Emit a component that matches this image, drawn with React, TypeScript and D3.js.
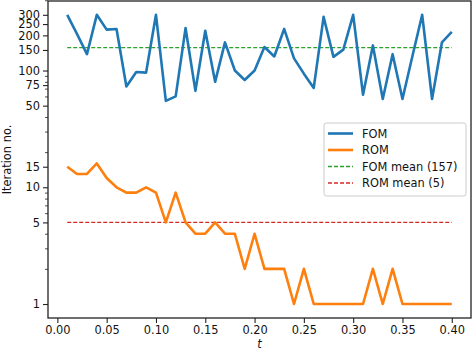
import React, { useRef, useEffect } from "react";
import * as d3 from "d3";

// time steps
const tValues = [
  0.01, 0.02, 0.03, 0.04, 0.05, 0.06, 0.07, 0.08, 0.09, 0.1,
  0.11, 0.12, 0.13, 0.14, 0.15, 0.16, 0.17, 0.18, 0.19, 0.2,
  0.21, 0.22, 0.23, 0.24, 0.25, 0.26, 0.27, 0.28, 0.29, 0.3,
  0.31, 0.32, 0.33, 0.34, 0.35, 0.36, 0.37, 0.38, 0.39, 0.4,
];

const fomIters = [
  300, 205, 138, 300, 224, 227, 73, 97, 96, 300,
  55, 60, 231, 67, 219, 80, 174, 100, 83, 100,
  159, 132, 227, 127, 94, 71, 288, 131, 151, 300,
  62, 164, 57, 138, 57, 132, 300, 57, 174, 214,
];

const romIters = [
  15, 13, 13, 16, 12, 10, 9, 9, 10, 9,
  5, 9, 5, 4, 4, 5, 4, 4, 2, 4,
  2, 2, 2, 1, 2, 1, 1, 1, 1, 1,
  1, 2, 1, 2, 1, 1, 1, 1, 1, 1,
];

const fomMean = 157;
const romMean = 5;

const xTicks = [0, 0.05, 0.1, 0.15, 0.2, 0.25, 0.3, 0.35, 0.4];
const yTicks = [1, 5, 10, 15, 50, 75, 100, 150, 200, 250, 300];
const yMinor = [2, 3, 4, 6, 7, 8, 9, 20, 30, 40, 60, 70, 80, 90, 400];

const legendItems = [
  { label: "FOM", color: "#1f77b4", dashed: false },
  { label: "ROM", color: "#ff7f0e", dashed: false },
  { label: "FOM mean (157)", color: "#2ca02c", dashed: true },
  { label: "ROM mean (5)", color: "#d62728", dashed: true },
];

const FONT = "'DejaVu Sans', sans-serif";

export default function App() {
  const svgRef = useRef<SVGSVGElement>(null);

  useEffect(() => {
    document.body.style.margin = "0";
    if (!svgRef.current) return;
    const svg = d3.select(svgRef.current);
    svg.selectAll("*").remove();

    const left = 48, right = 471, top = 1, bottom = 318;

    const x = d3.scaleLinear().domain([-0.0095, 0.4195]).range([left, right]);
    const y = d3.scaleLog().domain([0.759, 394]).range([bottom, top]);

    const g = svg.append("g");

    // mean lines
    const meanLine = (v: number, color: string) =>
      g.append("line")
        .attr("x1", x(tValues[0]))
        .attr("x2", x(tValues[tValues.length - 1]))
        .attr("y1", y(v))
        .attr("y2", y(v))
        .attr("stroke", color)
        .attr("stroke-width", 1.4)
        .attr("stroke-dasharray", "4,2");
    meanLine(fomMean, "#2ca02c");
    meanLine(romMean, "#d62728");

    const line = d3.line<number>()
      .x((_, i) => x(tValues[i]))
      .y(d => y(d));

    g.append("path")
      .datum(fomIters)
      .attr("fill", "none")
      .attr("stroke", "#1f77b4")
      .attr("stroke-width", 2.6)
      .attr("stroke-linejoin", "round")
      .attr("d", line);

    g.append("path")
      .datum(romIters)
      .attr("fill", "none")
      .attr("stroke", "#ff7f0e")
      .attr("stroke-width", 2.6)
      .attr("stroke-linejoin", "round")
      .attr("d", line);

    // frame
    g.append("rect")
      .attr("x", left)
      .attr("y", top)
      .attr("width", right - left)
      .attr("height", bottom - top)
      .attr("fill", "none")
      .attr("stroke", "#222")
      .attr("stroke-width", 1.3);

    // x axis
    const xAxis = d3.axisBottom(x)
      .tickValues(xTicks)
      .tickFormat(d => (d as number).toFixed(2))
      .tickSize(5)
      .tickPadding(3);
    const xg = g.append("g")
      .attr("transform", `translate(0,${bottom})`)
      .call(xAxis);
    xg.select(".domain").remove();
    xg.selectAll("line").attr("stroke", "#222").attr("stroke-width", 1.1);
    xg.selectAll("text")
      .style("font-family", FONT)
      .style("font-size", "11.4px")
      .attr("fill", "#111");

    // y axis
    const yAxis = d3.axisLeft(y)
      .tickValues(yTicks)
      .tickFormat(d => String(d))
      .tickSize(5)
      .tickPadding(3);
    const yg = g.append("g")
      .attr("transform", `translate(${left},0)`)
      .call(yAxis);
    yg.select(".domain").remove();
    yg.selectAll("line").attr("stroke", "#222").attr("stroke-width", 1.1);
    yg.selectAll("text")
      .style("font-family", FONT)
      .style("font-size", "11.4px")
      .attr("fill", "#111");

    const minorAxis = d3.axisLeft(y)
      .tickValues(yMinor)
      .tickFormat(() => "")
      .tickSize(3);
    const mg = g.append("g")
      .attr("transform", `translate(${left},0)`)
      .call(minorAxis);
    mg.select(".domain").remove();
    mg.selectAll("line").attr("stroke", "#222").attr("stroke-width", 0.8);

    // axis labels
    g.append("text")
      .attr("x", (left + right) / 2)
      .attr("y", 348)
      .attr("text-anchor", "middle")
      .style("font-family", FONT)
      .style("font-size", "11.4px")
      .style("font-style", "italic")
      .attr("fill", "#111")
      .text("t");

    g.append("text")
      .attr("transform", `translate(11,${(top + bottom) / 2}) rotate(-90)`)
      .attr("text-anchor", "middle")
      .style("font-family", FONT)
      .style("font-size", "11.4px")
      .attr("fill", "#111")
      .text("Iteration no.");

    // legend
    const lg = g.append("g").attr("transform", "translate(324,123)");
    lg.append("rect")
      .attr("width", 142)
      .attr("height", 73)
      .attr("rx", 2.5)
      .attr("fill", "white")
      .attr("fill-opacity", 0.85)
      .attr("stroke", "#ccc")
      .attr("stroke-width", 1);
    legendItems.forEach((item, i) => {
      const cy = 10.5 + i * 16.5;
      lg.append("line")
        .attr("x1", 4)
        .attr("x2", 29)
        .attr("y1", cy)
        .attr("y2", cy)
        .attr("stroke", item.color)
        .attr("stroke-width", item.dashed ? 1.4 : 2.6)
        .attr("stroke-dasharray", item.dashed ? "4,2" : null);
      lg.append("text")
        .attr("x", 38)
        .attr("y", cy + 4.2)
        .style("font-family", FONT)
        .style("font-size", "11.4px")
        .attr("fill", "#111")
        .text(item.label);
    });
  }, []);

  return (
    <div style={{ width: 474, height: 351, background: "white" }}>
      <svg ref={svgRef} width={474} height={351} style={{ display: "block" }} />
    </div>
  );
}
